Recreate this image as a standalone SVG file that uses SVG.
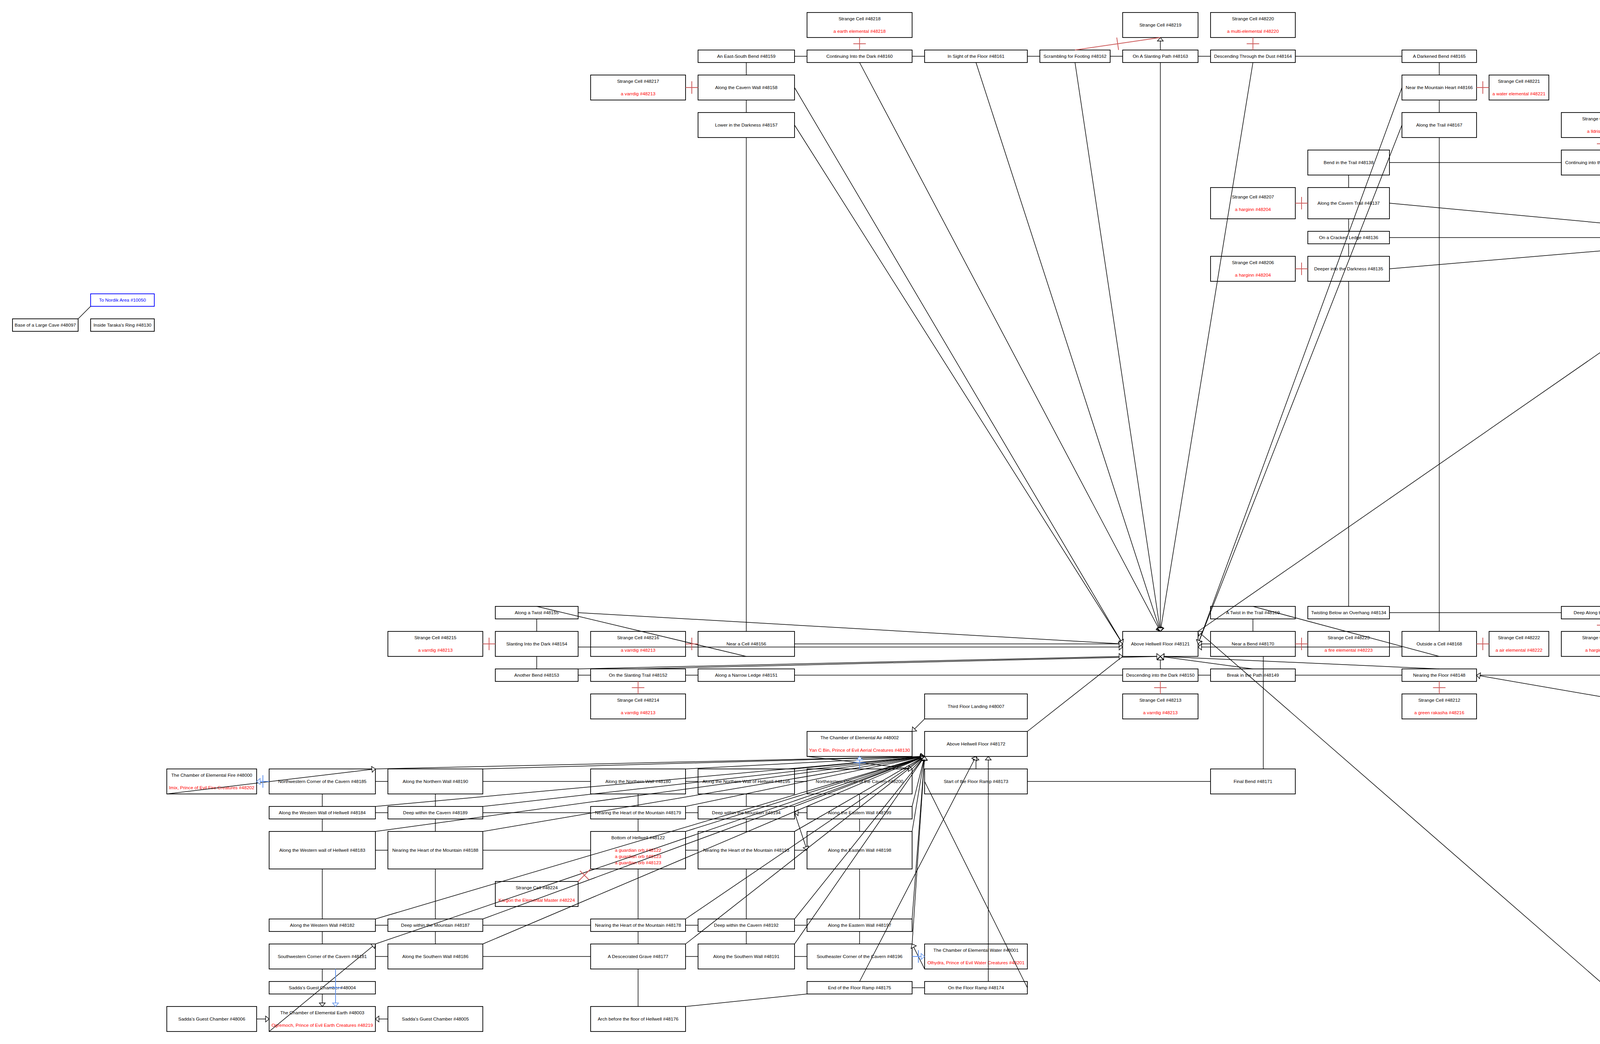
<svg xmlns="http://www.w3.org/2000/svg" width="6649" height="2672" viewBox="0 0 6649 2672">
<style>
.n rect{fill:#fff;stroke:#000;stroke-width:1.8}
.x rect{stroke:#00f}
text{font-family:"Liberation Sans",Arial,Helvetica,sans-serif;font-size:11.8px;text-anchor:middle;fill:#000}
text.red{fill:#f00}
.x text{fill:#00f}
#edges line,#edges path{fill:none;stroke:#000;stroke-width:1.5}
#edges .a{marker-end:url(#ar)}
#edges .r{stroke:#cd5c5c;stroke-width:2;marker-mid:url(#tk)}
#edges .b{stroke:#6495ed;stroke-width:2;marker-mid:url(#tb);marker-end:url(#ab)}
</style>
<defs>
<marker id="ar" viewBox="-12 -10 14 20" refX="0" refY="0" markerWidth="14" markerHeight="20" orient="auto" markerUnits="userSpaceOnUse" overflow="visible"><path d="M0,0 L-9,-7.5 L-9,7.5 Z" fill="#fff" stroke="#000" stroke-width="1.4"/></marker>
<marker id="ab" viewBox="-12 -10 14 20" refX="0" refY="0" markerWidth="14" markerHeight="20" orient="auto" markerUnits="userSpaceOnUse" overflow="visible"><path d="M0,0 L-9,-7.5 L-9,7.5 Z" fill="#fff" stroke="#6495ed" stroke-width="1.6"/></marker>
<marker id="tk" viewBox="-2 -17 4 34" refX="0" refY="0" markerWidth="4" markerHeight="34" orient="auto" markerUnits="userSpaceOnUse"><line x1="0" y1="-16" x2="0" y2="16" stroke="#cd5c5c" stroke-width="2"/></marker>
<marker id="tb" viewBox="-2 -17 4 34" refX="0" refY="0" markerWidth="4" markerHeight="34" orient="auto" markerUnits="userSpaceOnUse"><line x1="0" y1="-16" x2="0" y2="16" stroke="#6495ed" stroke-width="2"/></marker>
</defs>
<rect x="0" y="0" width="6649" height="2672" fill="#fff"/>
<g id="nodes">
<g id="r48218" class="n"><rect x="2066" y="32" width="269" height="64"/><text x="2200.5" y="52">Strange Cell #48218</text><text class="red" x="2200.5" y="84">a earth elemental #48218</text></g>
<g id="r48219" class="n"><rect x="2874" y="32" width="193" height="64"/><text x="2970.5" y="68">Strange Cell #48219</text></g>
<g id="r48220" class="n"><rect x="3099" y="32" width="217" height="64"/><text x="3207.5" y="52">Strange Cell #48220</text><text class="red" x="3207.5" y="84">a multi-elemental #48220</text></g>
<g id="r48159" class="n"><rect x="1787" y="128" width="247" height="32"/><text x="1910.5" y="148">An East-South Bend #48159</text></g>
<g id="r48160" class="n"><rect x="2066" y="128" width="269" height="32"/><text x="2200.5" y="148">Continuing Into the Dark #48160</text></g>
<g id="r48161" class="n"><rect x="2367" y="128" width="263" height="32"/><text x="2498.5" y="148">In Sight of the Floor #48161</text></g>
<g id="r48162" class="n"><rect x="2662" y="128" width="180" height="32"/><text x="2752" y="148">Scrambling for Footing #48162</text></g>
<g id="r48163" class="n"><rect x="2874" y="128" width="193" height="32"/><text x="2970.5" y="148">On A Slanting Path #48163</text></g>
<g id="r48164" class="n"><rect x="3099" y="128" width="217" height="32"/><text x="3207.5" y="148">Descending Through the Dust #48164</text></g>
<g id="r48165" class="n"><rect x="3589" y="128" width="191" height="32"/><text x="3684.5" y="148">A Darkened Bend #48165</text></g>
<g id="r48217" class="n"><rect x="1512" y="192" width="243" height="64"/><text x="1633.5" y="212">Strange Cell #48217</text><text class="red" x="1633.5" y="244">a varrdig #48213</text></g>
<g id="r48158" class="n"><rect x="1787" y="192" width="247" height="64"/><text x="1910.5" y="228">Along the Cavern Wall #48158</text></g>
<g id="r48166" class="n"><rect x="3589" y="192" width="191" height="64"/><text x="3684.5" y="228">Near the Mountain Heart #48166</text></g>
<g id="r48221" class="n"><rect x="3812" y="192" width="153" height="64"/><text x="3888.5" y="212">Strange Cell #48221</text><text class="red" x="3888.5" y="244">a water elemental #48221</text></g>
<g id="r48202" class="n"><rect x="5996" y="192" width="223" height="64"/><text x="6107.5" y="212">Strange Cell #48202</text><text class="red" x="6107.5" y="244">a chaggrin #48203</text></g>
<g id="r48157" class="n"><rect x="1787" y="288" width="247" height="64"/><text x="1910.5" y="324">Lower in the Darkness #48157</text></g>
<g id="r48167" class="n"><rect x="3589" y="288" width="191" height="64"/><text x="3684.5" y="324">Along the Trail #48167</text></g>
<g id="r48208" class="n"><rect x="3997" y="288" width="214" height="64"/><text x="4104" y="308">Strange Cell #48208</text><text class="red" x="4104" y="340">a lldriss #48208</text></g>
<g id="r48209" class="n"><rect x="4498" y="288" width="196" height="64"/><text x="4596" y="308">Strange Cell #48209</text><text class="red" x="4596" y="340">a lldriss #48208</text></g>
<g id="r48125" class="n"><rect x="5740" y="288" width="224" height="64"/><text x="5852" y="324">A Curve in the Path #48125</text></g>
<g id="r48126" class="n"><rect x="5996" y="288" width="223" height="64"/><text x="6107.5" y="324">On a Wide Ledge #48126</text></g>
<g id="r48127" class="n"><rect x="6251" y="288" width="213" height="64"/><text x="6357.5" y="324">Another Turn of the Path #48127</text></g>
<g id="r48138" class="n"><rect x="3348" y="384" width="209" height="64"/><text x="3452.5" y="420">Bend in the Trail #48138</text></g>
<g id="r48139" class="n"><rect x="3997" y="384" width="214" height="64"/><text x="4104" y="420">Continuing into the Darkness #48139</text></g>
<g id="r48140" class="n"><rect x="4243" y="384" width="223" height="64"/><text x="4354.5" y="420">Further Along in the Cavern #48140</text></g>
<g id="r48141" class="n"><rect x="4498" y="384" width="196" height="64"/><text x="4596" y="420">Ledge Near a Cell #48141</text></g>
<g id="r48142" class="n"><rect x="4726" y="384" width="245" height="64"/><text x="4848.5" y="420">Bend Along the Cavern Wall #48142</text></g>
<g id="r48201" class="n"><rect x="5537" y="384" width="171" height="64"/><text x="5622.5" y="404">Strange Cell #48201</text><text class="red" x="5622.5" y="436">a chaggrin #48203</text></g>
<g id="r48124" class="n"><rect x="5740" y="384" width="224" height="64"/><text x="5852" y="420">Crook in the Path #48124</text></g>
<g id="r48117" class="n"><rect x="5996" y="384" width="223" height="64"/><text x="6107.5" y="420">Very High Above Hellwell Floor #48117</text></g>
<g id="r48128" class="n"><rect x="6251" y="384" width="213" height="64"/><text x="6357.5" y="420">High up in the Darkness #48128</text></g>
<g id="r48203" class="n"><rect x="6496" y="384" width="121" height="64"/><text x="6556.5" y="404">Strange Cell #48203</text><text class="red" x="6556.5" y="436">a chaggrin #48203</text></g>
<g id="r48207" class="n"><rect x="3099" y="480" width="217" height="80"/><text x="3207.5" y="508">Strange Cell #48207</text><text class="red" x="3207.5" y="540">a harginn #48204</text></g>
<g id="r48137" class="n"><rect x="3348" y="480" width="209" height="80"/><text x="3452.5" y="524">Along the Cavern Trail #48137</text></g>
<g id="r48143" class="n"><rect x="4726" y="480" width="245" height="80"/><text x="4848.5" y="524">Hanging Halfway within the Cavern #48143</text></g>
<g id="r48210" class="n"><rect x="5003" y="480" width="254" height="80"/><text x="5130" y="508">Strange Cell #48210</text><text class="red" x="5130" y="540">a lldriss #48208</text></g>
<g id="r48123" class="n"><rect x="5740" y="480" width="224" height="80"/><text x="5852" y="524">High up Along the Path #48123</text></g>
<g id="r48116" class="n"><rect x="5996" y="480" width="223" height="80"/><text x="6107.5" y="500">On the Lip #48116</text><text class="red" x="6107.5" y="532">a guardian orb #48116</text><text class="red" x="6107.5" y="548">a guardian orb #48117</text></g>
<g id="r48136" class="n"><rect x="3348" y="592" width="209" height="32"/><text x="3452.5" y="612">On a Cracked Ledge #48136</text></g>
<g id="r48119" class="n"><rect x="4498" y="592" width="196" height="32"/><text x="4596" y="612">High Above Hellwell Floor #48119</text></g>
<g id="r48144" class="n"><rect x="4726" y="592" width="245" height="32"/><text x="4848.5" y="612">Further Along the Wall #48144</text></g>
<g id="r48115" class="n"><rect x="5996" y="592" width="223" height="32"/><text x="6107.5" y="612">Entrance to Hellwell #48115</text></g>
<g id="r48206" class="n"><rect x="3099" y="656" width="217" height="64"/><text x="3207.5" y="676">Strange Cell #48206</text><text class="red" x="3207.5" y="708">a harginn #48204</text></g>
<g id="r48135" class="n"><rect x="3348" y="656" width="209" height="64"/><text x="3452.5" y="692">Deeper into the Darkness #48135</text></g>
<g id="r48145" class="n"><rect x="4726" y="656" width="245" height="64"/><text x="4848.5" y="692">By a Granite Intrusion #48145</text></g>
<g id="r48211" class="n"><rect x="5003" y="656" width="254" height="64"/><text x="5130" y="676">Strange Cell #48211</text><text class="red" x="5130" y="708">a lldriss #48208</text></g>
<g id="r48114" class="n"><rect x="5996" y="656" width="223" height="64"/><text x="6107.5" y="692">Door Before Hellwell #48114</text></g>
<g id="r10050" class="n x"><rect x="232" y="752" width="163" height="32"/><text x="313.5" y="772">To Nordik Area #10050</text></g>
<g id="r48113" class="n"><rect x="5740" y="752" width="224" height="32"/><text x="5852" y="772">Final Ascent to the Peak #48113</text></g>
<g id="r48097" class="n"><rect x="32" y="816" width="168" height="32"/><text x="116" y="836">Base of a Large Cave #48097</text></g>
<g id="r48130" class="n"><rect x="232" y="816" width="163" height="32"/><text x="313.5" y="836">Inside Taraka's Ring #48130</text></g>
<g id="r48112" class="n"><rect x="5740" y="816" width="224" height="32"/><text x="5852" y="836">Nearing the Peak #48112</text></g>
<g id="r48111" class="n"><rect x="5740" y="880" width="224" height="32"/><text x="5852" y="900">High in the Mountains #48111</text></g>
<g id="r48110" class="n"><rect x="5740" y="944" width="224" height="64"/><text x="5852" y="964">On a Top of the Rockslide #48110</text><text class="red" x="5852" y="996">the guardian of the mountain #48106</text></g>
<g id="r48109" class="n"><rect x="5537" y="1040" width="171" height="32"/><text x="5622.5" y="1060">Beneath a Rockslide #48109</text></g>
<g id="r48108" class="n"><rect x="5996" y="1040" width="223" height="32"/><text x="6107.5" y="1060">On an Icy Path #48108</text></g>
<g id="r48107" class="n"><rect x="5996" y="1104" width="223" height="32"/><text x="6107.5" y="1124">Standing on Some Boulders #48107</text></g>
<g id="r48104" class="n"><rect x="5537" y="1168" width="171" height="64"/><text x="5622.5" y="1204">A Bend in the Trail #48104</text></g>
<g id="r48105" class="n"><rect x="5740" y="1168" width="224" height="64"/><text x="5852" y="1188">Outside a Small Hut #48105</text><text class="red" x="5852" y="1220">a yellow rakasha #48209</text></g>
<g id="r48106" class="n"><rect x="5996" y="1168" width="223" height="64"/><text x="6107.5" y="1188">Inside the Hut of a Madman! #48106</text><text class="red" x="6107.5" y="1220">a green rakasha #48215</text></g>
<g id="r48103" class="n"><rect x="5537" y="1264" width="171" height="32"/><text x="5622.5" y="1284">On a Small Overhang #48103</text></g>
<g id="r48102" class="n"><rect x="5289" y="1328" width="216" height="32"/><text x="5397" y="1348">A Small Outcrop #48102</text></g>
<g id="r42850" class="n x"><rect x="5003" y="1392" width="254" height="64"/><text x="5130" y="1428">To Orcs #42850</text></g>
<g id="r48101" class="n"><rect x="5289" y="1392" width="216" height="64"/><text x="5397" y="1412">Beginning of a Mountain Trail #48101</text><text class="red" x="5397" y="1444">a orange rakasha #48205</text></g>
<g id="r80444" class="n x"><rect x="5537" y="1392" width="171" height="64"/><text x="5622.5" y="1428">To Ice Cave #80444</text></g>
<g id="r48098" class="n"><rect x="4726" y="1488" width="245" height="32"/><text x="4848.5" y="1508">Between Two Mountains #48098</text></g>
<g id="r48099" class="n"><rect x="5003" y="1488" width="254" height="32"/><text x="5130" y="1508">Along a Trail Between the Mountains #48099</text></g>
<g id="r48100" class="n"><rect x="5289" y="1488" width="216" height="32"/><text x="5397" y="1508">Base of the Mountain Trail #48100</text></g>
<g id="r48155" class="n"><rect x="1268" y="1552" width="212" height="32"/><text x="1374" y="1572">Along a Twist #48155</text></g>
<g id="r48169" class="n"><rect x="3099" y="1552" width="217" height="32"/><text x="3207.5" y="1572">A Twist in the Trail #48169</text></g>
<g id="r48134" class="n"><rect x="3348" y="1552" width="209" height="32"/><text x="3452.5" y="1572">Twisting Below an Overhang #48134</text></g>
<g id="r48133" class="n"><rect x="3997" y="1552" width="214" height="32"/><text x="4104" y="1572">Deep Along the Path #48133</text></g>
<g id="r48132" class="n"><rect x="4498" y="1552" width="196" height="32"/><text x="4596" y="1572">Along a Rift #48132</text></g>
<g id="r48131" class="n"><rect x="4726" y="1552" width="245" height="32"/><text x="4848.5" y="1572">Descending into The Dark #48131</text></g>
<g id="r48129" class="n"><rect x="6251" y="1552" width="213" height="32"/><text x="6357.5" y="1572">Twisting down into the Night #48129</text></g>
<g id="r48215" class="n"><rect x="993" y="1616" width="243" height="64"/><text x="1114.5" y="1636">Strange Cell #48215</text><text class="red" x="1114.5" y="1668">a varrdig #48213</text></g>
<g id="r48154" class="n"><rect x="1268" y="1616" width="212" height="64"/><text x="1374" y="1652">Slanting Into the Dark #48154</text></g>
<g id="r48216" class="n"><rect x="1512" y="1616" width="243" height="64"/><text x="1633.5" y="1636">Strange Cell #48216</text><text class="red" x="1633.5" y="1668">a varrdig #48213</text></g>
<g id="r48156" class="n"><rect x="1787" y="1616" width="247" height="64"/><text x="1910.5" y="1652">Near a Cell #48156</text></g>
<g id="r48121" class="n"><rect x="2874" y="1616" width="193" height="64"/><text x="2970.5" y="1652">Above Hellwell Floor #48121</text></g>
<g id="r48170" class="n"><rect x="3099" y="1616" width="217" height="64"/><text x="3207.5" y="1652">Near a Bend #48170</text></g>
<g id="r48223" class="n"><rect x="3348" y="1616" width="209" height="64"/><text x="3452.5" y="1636">Strange Cell #48223</text><text class="red" x="3452.5" y="1668">a fire elemental #48223</text></g>
<g id="r48168" class="n"><rect x="3589" y="1616" width="191" height="64"/><text x="3684.5" y="1652">Outside a Cell #48168</text></g>
<g id="r48222" class="n"><rect x="3812" y="1616" width="153" height="64"/><text x="3888.5" y="1636">Strange Cell #48222</text><text class="red" x="3888.5" y="1668">a air elemental #48222</text></g>
<g id="r48205" class="n"><rect x="3997" y="1616" width="214" height="64"/><text x="4104" y="1636">Strange Cell #48205</text><text class="red" x="4104" y="1668">a harginn #48204</text></g>
<g id="r48204" class="n"><rect x="4726" y="1616" width="245" height="64"/><text x="4848.5" y="1636">Strange Cell #48204</text><text class="red" x="4848.5" y="1668">a harginn #48204</text></g>
<g id="r48153" class="n"><rect x="1268" y="1712" width="212" height="32"/><text x="1374" y="1732">Another Bend #48153</text></g>
<g id="r48152" class="n"><rect x="1512" y="1712" width="243" height="32"/><text x="1633.5" y="1732">On the Slanting Trail #48152</text></g>
<g id="r48151" class="n"><rect x="1787" y="1712" width="247" height="32"/><text x="1910.5" y="1732">Along a Narrow Ledge #48151</text></g>
<g id="r48150" class="n"><rect x="2874" y="1712" width="193" height="32"/><text x="2970.5" y="1732">Descending into the Dark #48150</text></g>
<g id="r48149" class="n"><rect x="3099" y="1712" width="217" height="32"/><text x="3207.5" y="1732">Break in the Path #48149</text></g>
<g id="r48148" class="n"><rect x="3589" y="1712" width="191" height="32"/><text x="3684.5" y="1732">Nearing the Floor #48148</text></g>
<g id="r48146" class="n"><rect x="4726" y="1712" width="245" height="32"/><text x="4848.5" y="1732">Through a Turning Arch #48146</text></g>
<g id="r48214" class="n"><rect x="1512" y="1776" width="243" height="64"/><text x="1633.5" y="1796">Strange Cell #48214</text><text class="red" x="1633.5" y="1828">a varrdig #48213</text></g>
<g id="r48007" class="n"><rect x="2367" y="1776" width="263" height="64"/><text x="2498.5" y="1812">Third Floor Landing #48007</text></g>
<g id="r48213" class="n"><rect x="2874" y="1776" width="193" height="64"/><text x="2970.5" y="1796">Strange Cell #48213</text><text class="red" x="2970.5" y="1828">a varrdig #48213</text></g>
<g id="r48212" class="n"><rect x="3589" y="1776" width="191" height="64"/><text x="3684.5" y="1796">Strange Cell #48212</text><text class="red" x="3684.5" y="1828">a green rakasha #48216</text></g>
<g id="r48147" class="n"><rect x="4243" y="1776" width="223" height="64"/><text x="4354.5" y="1812">Third floor of Hellwell #48147</text></g>
<g id="r48002" class="n"><rect x="2066" y="1872" width="269" height="64"/><text x="2200.5" y="1892">The Chamber of Elemental Air #48002</text><text class="red" x="2200.5" y="1924">Yan C Bin, Prince of Evil Aerial Creatures #48130</text></g>
<g id="r48172" class="n"><rect x="2367" y="1872" width="263" height="64"/><text x="2498.5" y="1908">Above Hellwell Floor #48172</text></g>
<g id="r48000" class="n"><rect x="427" y="1968" width="230" height="64"/><text x="542" y="1988">The Chamber of Elemental Fire #48000</text><text class="red" x="542" y="2020">Imix, Prince of Evil Fire Creatures #48202</text></g>
<g id="r48185" class="n"><rect x="689" y="1968" width="272" height="64"/><text x="825" y="2004">Northwestern Corner of the Cavern #48185</text></g>
<g id="r48190" class="n"><rect x="993" y="1968" width="243" height="64"/><text x="1114.5" y="2004">Along the Northern Wall #48190</text></g>
<g id="r48180" class="n"><rect x="1512" y="1968" width="243" height="64"/><text x="1633.5" y="2004">Along the Northern Wall #48180</text></g>
<g id="r48195" class="n"><rect x="1787" y="1968" width="247" height="64"/><text x="1910.5" y="2004">Along the Northern Wall of Hellwell #48195</text></g>
<g id="r48200" class="n"><rect x="2066" y="1968" width="269" height="64"/><text x="2200.5" y="2004">Northeastern Corner of the Cavern #48200</text></g>
<g id="r48173" class="n"><rect x="2367" y="1968" width="263" height="64"/><text x="2498.5" y="2004">Start of the Floor Ramp #48173</text></g>
<g id="r48171" class="n"><rect x="3099" y="1968" width="217" height="64"/><text x="3207.5" y="2004">Final Bend #48171</text></g>
<g id="r48184" class="n"><rect x="689" y="2064" width="272" height="32"/><text x="825" y="2084">Along the Western Wall of Hellwell #48184</text></g>
<g id="r48189" class="n"><rect x="993" y="2064" width="243" height="32"/><text x="1114.5" y="2084">Deep within the Cavern #48189</text></g>
<g id="r48179" class="n"><rect x="1512" y="2064" width="243" height="32"/><text x="1633.5" y="2084">Nearing the Heart of the Mountain #48179</text></g>
<g id="r48194" class="n"><rect x="1787" y="2064" width="247" height="32"/><text x="1910.5" y="2084">Deep within the Mountain #48194</text></g>
<g id="r48199" class="n"><rect x="2066" y="2064" width="269" height="32"/><text x="2200.5" y="2084">Along the Eastern Wall #48199</text></g>
<g id="r48183" class="n"><rect x="689" y="2128" width="272" height="96"/><text x="825" y="2180">Along the Western wall of Hellwell #48183</text></g>
<g id="r48188" class="n"><rect x="993" y="2128" width="243" height="96"/><text x="1114.5" y="2180">Nearing the Heart of the Mountain #48188</text></g>
<g id="r48122" class="n"><rect x="1512" y="2128" width="243" height="96"/><text x="1633.5" y="2148">Bottom of Hellwell #48122</text><text class="red" x="1633.5" y="2180">a guardian orb #48122</text><text class="red" x="1633.5" y="2196">a guardian orb #48123</text><text class="red" x="1633.5" y="2212">a guardian orb #48123</text></g>
<g id="r48193" class="n"><rect x="1787" y="2128" width="247" height="96"/><text x="1910.5" y="2180">Nearing the Heart of the Mountain #48193</text></g>
<g id="r48198" class="n"><rect x="2066" y="2128" width="269" height="96"/><text x="2200.5" y="2180">Along the Eastern Wall #48198</text></g>
<g id="r48224" class="n"><rect x="1268" y="2256" width="212" height="64"/><text x="1374" y="2276">Strange Cell #48224</text><text class="red" x="1374" y="2308">Kargori the Elemental Master #48224</text></g>
<g id="r48182" class="n"><rect x="689" y="2352" width="272" height="32"/><text x="825" y="2372">Along the Western Wall #48182</text></g>
<g id="r48187" class="n"><rect x="993" y="2352" width="243" height="32"/><text x="1114.5" y="2372">Deep within the Mountain #48187</text></g>
<g id="r48178" class="n"><rect x="1512" y="2352" width="243" height="32"/><text x="1633.5" y="2372">Nearing the Heart of the Mountain #48178</text></g>
<g id="r48192" class="n"><rect x="1787" y="2352" width="247" height="32"/><text x="1910.5" y="2372">Deep within the Cavern #48192</text></g>
<g id="r48197" class="n"><rect x="2066" y="2352" width="269" height="32"/><text x="2200.5" y="2372">Along the Eastern Wall #48197</text></g>
<g id="r48118" class="n"><rect x="5740" y="2352" width="224" height="32"/><text x="5852" y="2372">Very High Above Hellwell Floor #48118</text></g>
<g id="r48181" class="n"><rect x="689" y="2416" width="272" height="64"/><text x="825" y="2452">Southwestern Corner of the Cavern #48181</text></g>
<g id="r48186" class="n"><rect x="993" y="2416" width="243" height="64"/><text x="1114.5" y="2452">Along the Southern Wall #48186</text></g>
<g id="r48177" class="n"><rect x="1512" y="2416" width="243" height="64"/><text x="1633.5" y="2452">A Descecrated Grave #48177</text></g>
<g id="r48191" class="n"><rect x="1787" y="2416" width="247" height="64"/><text x="1910.5" y="2452">Along the Southern Wall #48191</text></g>
<g id="r48196" class="n"><rect x="2066" y="2416" width="269" height="64"/><text x="2200.5" y="2452">Southeaster Corner of the Cavern #48196</text></g>
<g id="r48001" class="n"><rect x="2367" y="2416" width="263" height="64"/><text x="2498.5" y="2436">The Chamber of Elemental Water #48001</text><text class="red" x="2498.5" y="2468">Olhydra, Prince of Evil Water Creatures #48201</text></g>
<g id="r48004" class="n"><rect x="689" y="2512" width="272" height="32"/><text x="825" y="2532">Sadda's Guest Chamber #48004</text></g>
<g id="r48175" class="n"><rect x="2066" y="2512" width="269" height="32"/><text x="2200.5" y="2532">End of the Floor Ramp #48175</text></g>
<g id="r48174" class="n"><rect x="2367" y="2512" width="263" height="32"/><text x="2498.5" y="2532">On the Floor Ramp #48174</text></g>
<g id="r48006" class="n"><rect x="427" y="2576" width="230" height="64"/><text x="542" y="2612">Sadda's Guest Chamber #48006</text></g>
<g id="r48003" class="n"><rect x="689" y="2576" width="272" height="64"/><text x="825" y="2596">The Chamber of Elemental Earth #48003</text><text class="red" x="825" y="2628">Ogremoch, Prince of Evil Earth Creatures #48219</text></g>
<g id="r48005" class="n"><rect x="993" y="2576" width="243" height="64"/><text x="1114.5" y="2612">Sadda's Guest Chamber #48005</text></g>
<g id="r48176" class="n"><rect x="1512" y="2576" width="243" height="64"/><text x="1633.5" y="2612">Arch before the floor of Hellwell #48176</text></g>
<g id="r48120" class="n"><rect x="4243" y="2576" width="223" height="64"/><text x="4354.5" y="2612">Very High Above Hellwell Floor #48120</text></g>
</g>
<g id="edges">
<line x1="2034" y1="144" x2="2066" y2="144"/>
<line x1="2335" y1="144" x2="2367" y2="144"/>
<line x1="2630" y1="144" x2="2662" y2="144"/>
<line x1="2842" y1="144" x2="2874" y2="144"/>
<line x1="3067" y1="144" x2="3099" y2="144"/>
<line x1="3316" y1="144" x2="3589" y2="144"/>
<line x1="1910.5" y1="160" x2="1910.5" y2="192"/>
<line x1="1910.5" y1="256" x2="1910.5" y2="288"/>
<line x1="1910.5" y1="352" x2="1910.5" y2="1616"/>
<line x1="3684.5" y1="160" x2="3684.5" y2="192"/>
<line x1="3684.5" y1="256" x2="3684.5" y2="288"/>
<line x1="3684.5" y1="352" x2="3684.5" y2="1616"/>
<line x1="3452.5" y1="448" x2="3452.5" y2="480"/>
<line x1="3452.5" y1="560" x2="3452.5" y2="592"/>
<line x1="3452.5" y1="624" x2="3452.5" y2="656"/>
<line x1="3452.5" y1="720" x2="3452.5" y2="1552"/>
<line x1="3557" y1="416" x2="3997" y2="416"/>
<line x1="4211" y1="416" x2="4243" y2="416"/>
<line x1="4466" y1="416" x2="4498" y2="416"/>
<line x1="4694" y1="416" x2="4726" y2="416"/>
<line x1="4848.5" y1="448" x2="4848.5" y2="480"/>
<line x1="4848.5" y1="560" x2="4848.5" y2="592"/>
<line x1="4848.5" y1="624" x2="4848.5" y2="656"/>
<line x1="4878" y1="720" x2="4878" y2="1712"/>
<line x1="5964" y1="320" x2="5996" y2="320"/>
<line x1="6219" y1="320" x2="6251" y2="320"/>
<line x1="5852" y1="352" x2="5852" y2="384"/>
<line x1="6107.5" y1="352" x2="6107.5" y2="384"/>
<line x1="6357.5" y1="352" x2="6357.5" y2="384"/>
<line x1="5964" y1="416" x2="5996" y2="416"/>
<line x1="6219" y1="416" x2="6251" y2="416"/>
<line x1="5852" y1="448" x2="5852" y2="480"/>
<line x1="6107.5" y1="448" x2="6107.5" y2="480"/>
<line x1="5964" y1="520" x2="5996" y2="520"/>
<line x1="6107.5" y1="560" x2="6107.5" y2="592"/>
<line x1="6107.5" y1="624" x2="6107.5" y2="656"/>
<line x1="5996" y1="720" x2="5964" y2="752"/>
<line x1="5852" y1="784" x2="5852" y2="816"/>
<line x1="5852" y1="848" x2="5852" y2="880"/>
<line x1="5852" y1="912" x2="5852" y2="944"/>
<line x1="5740" y1="1008" x2="5708" y2="1040"/>
<line x1="5708" y1="1056" x2="5996" y2="1056"/>
<line x1="6107.5" y1="1072" x2="6107.5" y2="1104"/>
<line x1="5996" y1="1136" x2="5964" y2="1168"/>
<line x1="5708" y1="1200" x2="5740" y2="1200"/>
<line x1="5964" y1="1200" x2="5996" y2="1200"/>
<line x1="5622.5" y1="1232" x2="5622.5" y2="1264"/>
<line x1="5537" y1="1296" x2="5505" y2="1328"/>
<line x1="6357.5" y1="448" x2="6357.5" y2="1552"/>
<line x1="5397" y1="1360" x2="5397" y2="1392"/>
<line x1="5257" y1="1424" x2="5289" y2="1424"/>
<line x1="5505" y1="1424" x2="5537" y2="1424"/>
<line x1="4971" y1="1504" x2="5003" y2="1504"/>
<line x1="5257" y1="1504" x2="5289" y2="1504"/>
<line x1="3557" y1="1568" x2="3997" y2="1568"/>
<line x1="4211" y1="1568" x2="4498" y2="1568"/>
<line x1="4694" y1="1568" x2="4726" y2="1568"/>
<line x1="4971" y1="1568" x2="6251" y2="1568"/>
<line x1="3780" y1="1728" x2="4726" y2="1728"/>
<line x1="3207.5" y1="1584" x2="3207.5" y2="1616"/>
<line x1="3207.5" y1="1552" x2="3684.5" y2="1680"/>
<line x1="3067" y1="1728" x2="3099" y2="1728"/>
<line x1="2034" y1="1728" x2="2874" y2="1728"/>
<line x1="3316" y1="1728" x2="3589" y2="1728"/>
<line x1="3234" y1="1680" x2="3234" y2="1968"/>
<line x1="2630" y1="2000" x2="3099" y2="2000"/>
<line x1="1374" y1="1552" x2="1910.5" y2="1680"/>
<line x1="1374" y1="1584" x2="1374" y2="1616"/>
<line x1="1374" y1="1680" x2="1374" y2="1712"/>
<line x1="1480" y1="1728" x2="1512" y2="1728"/>
<line x1="1755" y1="1728" x2="1787" y2="1728"/>
<line x1="2630" y1="1872" x2="2874" y2="1680"/>
<line x1="825" y1="2480" x2="825" y2="2512"/>
<line x1="2335" y1="2528" x2="2367" y2="2528"/>
<line x1="2367" y1="2000" x2="2630" y2="2528"/>
<line x1="2066" y1="2544" x2="1755" y2="2576"/>
<line x1="200" y1="816" x2="232" y2="784"/>
<line x1="825" y1="2032" x2="825" y2="2064"/>
<line x1="825" y1="2096" x2="825" y2="2128"/>
<line x1="825" y1="2224" x2="825" y2="2352"/>
<line x1="825" y1="2384" x2="825" y2="2416"/>
<line x1="1114.5" y1="2032" x2="1114.5" y2="2064"/>
<line x1="1114.5" y1="2096" x2="1114.5" y2="2128"/>
<line x1="1114.5" y1="2224" x2="1114.5" y2="2352"/>
<line x1="1114.5" y1="2384" x2="1114.5" y2="2416"/>
<line x1="961" y1="2000" x2="993" y2="2000"/>
<line x1="961" y1="2080" x2="993" y2="2080"/>
<line x1="961" y1="2176" x2="993" y2="2176"/>
<line x1="961" y1="2368" x2="993" y2="2368"/>
<line x1="961" y1="2448" x2="993" y2="2448"/>
<line x1="1236" y1="2000" x2="1512" y2="2000"/>
<line x1="1236" y1="2080" x2="1512" y2="2080"/>
<line x1="1236" y1="2176" x2="1512" y2="2176"/>
<line x1="1236" y1="2368" x2="1512" y2="2368"/>
<line x1="1236" y1="2448" x2="1512" y2="2448"/>
<line x1="1633.5" y1="2032" x2="1633.5" y2="2064"/>
<line x1="1633.5" y1="2096" x2="1633.5" y2="2128"/>
<line x1="1633.5" y1="2224" x2="1633.5" y2="2352"/>
<line x1="1633.5" y1="2384" x2="1633.5" y2="2416"/>
<line x1="1633.5" y1="2480" x2="1633.5" y2="2576"/>
<line x1="1910.5" y1="2032" x2="1910.5" y2="2064"/>
<line x1="1910.5" y1="2096" x2="1910.5" y2="2128"/>
<line x1="1910.5" y1="2224" x2="1910.5" y2="2352"/>
<line x1="1910.5" y1="2384" x2="1910.5" y2="2416"/>
<line x1="2200.5" y1="2032" x2="2200.5" y2="2064"/>
<line x1="2200.5" y1="2096" x2="2200.5" y2="2128"/>
<line x1="2200.5" y1="2224" x2="2200.5" y2="2352"/>
<line x1="2200.5" y1="2384" x2="2200.5" y2="2416"/>
<line x1="1755" y1="2000" x2="1787" y2="2000"/>
<line x1="1755" y1="2080" x2="1787" y2="2080"/>
<line x1="1755" y1="2176" x2="1787" y2="2176"/>
<line x1="1755" y1="2368" x2="1787" y2="2368"/>
<line x1="1755" y1="2448" x2="1787" y2="2448"/>
<line x1="2034" y1="2000" x2="2066" y2="2000"/>
<line x1="2034" y1="2176" x2="2066" y2="2176"/>
<line x1="2034" y1="2368" x2="2066" y2="2368"/>
<line x1="2034" y1="2448" x2="2066" y2="2448"/>
<line class="a" x1="2034" y1="224" x2="2874" y2="1648"/>
<line class="a" x1="2034" y1="320" x2="2874" y2="1648"/>
<line class="a" x1="2200.5" y1="160" x2="2970.5" y2="1616"/>
<line class="a" x1="2498.5" y1="160" x2="2970.5" y2="1616"/>
<line class="a" x1="2752" y1="160" x2="2970.5" y2="1616"/>
<line class="a" x1="3207.5" y1="160" x2="2970.5" y2="1616"/>
<line class="a" x1="2970.5" y1="160" x2="2970.5" y2="1616"/>
<line class="a" x1="2970.5" y1="128" x2="2970.5" y2="96"/>
<line class="a" x1="3589" y1="224" x2="3067" y2="1648"/>
<line class="a" x1="3589" y1="320" x2="3067" y2="1648"/>
<line class="a" x1="3557" y1="520" x2="4498" y2="608"/>
<line class="a" x1="3557" y1="608" x2="4498" y2="608"/>
<line class="a" x1="3557" y1="688" x2="4498" y2="608"/>
<line class="a" x1="4104" y1="448" x2="4596" y2="592"/>
<line class="a" x1="4354.5" y1="448" x2="4596" y2="592"/>
<line class="a" x1="4596" y1="448" x2="4596" y2="592"/>
<line class="a" x1="4726" y1="520" x2="4694" y2="608"/>
<line class="a" x1="4726" y1="608" x2="4694" y2="608"/>
<line class="a" x1="4726" y1="688" x2="4694" y2="608"/>
<line class="a" x1="3067" y1="1616" x2="4498" y2="624"/>
<line class="a" x1="4466" y1="2576" x2="4498" y2="624"/>
<line class="a" x1="4104" y1="1552" x2="4596" y2="624"/>
<line class="a" x1="4596" y1="1552" x2="4596" y2="624"/>
<line class="a" x1="4848.5" y1="1552" x2="4596" y2="624"/>
<line class="a" x1="5740" y1="2368" x2="4694" y2="608"/>
<line class="a" x1="4694" y1="592" x2="5996" y2="448"/>
<line class="a" x1="5964" y1="2352" x2="5996" y2="448"/>
<line class="a" x1="5397" y1="1488" x2="5397" y2="1456"/>
<line class="a" x1="4466" y1="1776" x2="4726" y2="1744"/>
<line class="a" x1="4243" y1="1808" x2="3780" y2="1728"/>
<line class="a" x1="3099" y1="1648" x2="3067" y2="1648"/>
<line class="a" x1="3589" y1="1656" x2="3067" y2="1656"/>
<line class="a" x1="4243" y1="2640" x2="3067" y2="1616"/>
<line class="a" x1="2970.5" y1="1712" x2="2970.5" y2="1680"/>
<line class="a" x1="3207.5" y1="1712" x2="2970.5" y2="1680"/>
<line class="a" x1="3684.5" y1="1712" x2="2970.5" y2="1680"/>
<line class="a" x1="1480" y1="1568" x2="2874" y2="1648"/>
<line class="a" x1="1480" y1="1656" x2="2874" y2="1656"/>
<line class="a" x1="2034" y1="1648" x2="2874" y2="1648"/>
<line class="a" x1="1633.5" y1="1712" x2="2970.5" y2="1680"/>
<line class="a" x1="1480" y1="1712" x2="2874" y2="1680"/>
<line class="a" x1="2367" y1="1840" x2="2335" y2="1872"/>
<line class="a" x1="2066" y1="1936" x2="2335" y2="1968"/>
<line class="a" x1="427" y1="2032" x2="961" y2="1968"/>
<line class="a" x1="2367" y1="2480" x2="2335" y2="2416"/>
<line class="a" x1="689" y1="2640" x2="961" y2="2416"/>
<line class="a" x1="825" y1="2544" x2="825" y2="2576"/>
<line class="a" x1="657" y1="2608" x2="689" y2="2608"/>
<line class="a" x1="993" y1="2608" x2="961" y2="2608"/>
<line class="a" x1="2066" y1="2080" x2="2034" y2="2080"/>
<line class="a" x1="2034" y1="2080" x2="2066" y2="2176"/>
<line class="a" x1="2498.5" y1="1968" x2="2498.5" y2="1936"/>
<line class="a" x1="2530" y1="2512" x2="2530" y2="1936"/>
<line class="a" x1="2200.5" y1="2512" x2="2498.5" y2="1936"/>
<line class="a" x1="961" y1="1968" x2="2367" y2="1936"/>
<line class="a" x1="1236" y1="1968" x2="2367" y2="1936"/>
<line class="a" x1="961" y1="2064" x2="2367" y2="1936"/>
<line class="a" x1="1236" y1="2064" x2="2367" y2="1936"/>
<line class="a" x1="961" y1="2128" x2="2367" y2="1936"/>
<line class="a" x1="1236" y1="2128" x2="2367" y2="1936"/>
<line class="a" x1="961" y1="2352" x2="2367" y2="1936"/>
<line class="a" x1="1236" y1="2352" x2="2367" y2="1936"/>
<line class="a" x1="961" y1="2416" x2="2367" y2="1936"/>
<line class="a" x1="1236" y1="2416" x2="2367" y2="1936"/>
<line class="a" x1="1755" y1="1968" x2="2367" y2="1936"/>
<line class="a" x1="1755" y1="2064" x2="2367" y2="1936"/>
<line class="a" x1="1755" y1="2128" x2="2367" y2="1936"/>
<line class="a" x1="1755" y1="2352" x2="2367" y2="1936"/>
<line class="a" x1="1755" y1="2416" x2="2367" y2="1936"/>
<line class="a" x1="2034" y1="1968" x2="2367" y2="1936"/>
<line class="a" x1="2034" y1="2064" x2="2367" y2="1936"/>
<line class="a" x1="2034" y1="2128" x2="2367" y2="1936"/>
<line class="a" x1="2034" y1="2352" x2="2367" y2="1936"/>
<line class="a" x1="2034" y1="2416" x2="2367" y2="1936"/>
<line class="a" x1="2335" y1="1968" x2="2367" y2="1936"/>
<line class="a" x1="2335" y1="2064" x2="2367" y2="1936"/>
<line class="a" x1="2335" y1="2128" x2="2367" y2="1936"/>
<line class="a" x1="2335" y1="2352" x2="2367" y2="1936"/>
<line class="a" x1="2335" y1="2416" x2="2367" y2="1936"/>
<path class="r" d="M2200.5,96 L2200.5,112 L2200.5,128"/>
<path class="r" d="M3207.5,96 L3207.5,112 L3207.5,128"/>
<path class="r" d="M2752,128 L2861.25,112 L2970.5,96"/>
<path class="r" d="M1755,224 L1771,224 L1787,224"/>
<path class="r" d="M3780,224 L3796,224 L3812,224"/>
<path class="r" d="M3316,520 L3332,520 L3348,520"/>
<path class="r" d="M3316,688 L3332,688 L3348,688"/>
<path class="r" d="M4104,352 L4104,368 L4104,384"/>
<path class="r" d="M4596,352 L4596,368 L4596,384"/>
<path class="r" d="M4971,520 L4987,520 L5003,520"/>
<path class="r" d="M4971,688 L4987,688 L5003,688"/>
<path class="r" d="M6107.5,256 L6107.5,272 L6107.5,288"/>
<path class="r" d="M5708,416 L5724,416 L5740,416"/>
<path class="r" d="M6464,416 L6480,416 L6496,416"/>
<path class="r" d="M4104,1584 L4104,1600 L4104,1616"/>
<path class="r" d="M4848.5,1584 L4848.5,1600 L4848.5,1616"/>
<path class="r" d="M3316,1648 L3332,1648 L3348,1648"/>
<path class="r" d="M3780,1648 L3796,1648 L3812,1648"/>
<path class="r" d="M2970.5,1744 L2970.5,1760 L2970.5,1776"/>
<path class="r" d="M3684.5,1744 L3684.5,1760 L3684.5,1776"/>
<path class="r" d="M1236,1648 L1252,1648 L1268,1648"/>
<path class="r" d="M1755,1648 L1771,1648 L1787,1648"/>
<path class="r" d="M1633.5,1744 L1633.5,1760 L1633.5,1776"/>
<path class="r" d="M1512,2224 L1496,2240 L1480,2256"/>
<path class="b" d="M2200.5,1968 L2200.5,1952 L2200.5,1936"/>
<path class="b" d="M689,2000 L673,2000 L657,2000"/>
<path class="b" d="M2335,2448 L2351,2448 L2367,2448"/>
<path class="b" d="M859,2480 L859,2528 L859,2576"/>
</g>
</svg>
